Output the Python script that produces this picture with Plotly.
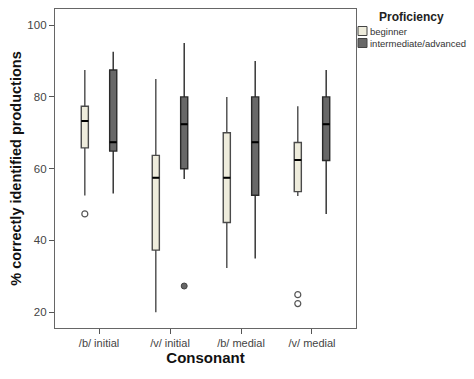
import plotly.graph_objects as go

categories = ["/b/ initial", "/v/ initial", "/b/ medial", "/v/ medial"]

beg_low = [52.5, 20.0, 32.3, 52.4]
beg_q1 = [65.8, 37.3, 45.0, 53.6]
beg_med = [73.3, 57.5, 57.5, 62.4]
beg_q3 = [77.4, 63.7, 70.0, 67.3]
beg_high = [87.5, 85.0, 80.0, 77.4]
beg_out = [[47.4], [], [], [24.9, 22.4]]

adv_low = [53.1, 57.1, 35.0, 47.4]
adv_q1 = [64.9, 60.0, 52.6, 62.3]
adv_med = [67.4, 72.4, 67.4, 72.4]
adv_q3 = [87.5, 80.0, 80.0, 80.0]
adv_high = [92.6, 95.0, 90.0, 87.5]
adv_out = [[], [27.3], [], []]

legend_title = "Proficiency"
group_names = ["beginner", "intermediate/advanced"]

OFFSET = 0.2
BOXW = 0.1
idx = list(range(len(categories)))

W, H = 474, 379
ML, MR, MT, MB = 55, 118, 9, 51
PW, PH = W - ML - MR, H - MT - MB

def px_x(p):
    return (p - ML) / PW

def px_y(p):
    return (H - MB - p) / PH

fig = go.Figure()
groups = [
    (group_names[0], -OFFSET, beg_low, beg_q1, beg_med, beg_q3, beg_high, beg_out,
     "#eeecdc", "#4a4a4a", dict(color="white", size=6, line=dict(color="#555555", width=1.2))),
    (group_names[1], OFFSET, adv_low, adv_q1, adv_med, adv_q3, adv_high, adv_out,
     "#686868", "#2a2a2a", dict(color="#666666", size=6, line=dict(color="#444444", width=1))),
]
for name, off, lo, q1, med, q3, hi, outs, fill, lc, mk in groups:
    xs = [i + off for i in idx]
    fig.add_trace(go.Box(
        name=name, x=xs, q1=q1, median=med, q3=q3,
        lowerfence=lo, upperfence=hi, width=BOXW, whiskerwidth=0,
        boxpoints=False, fillcolor=fill, line=dict(color=lc, width=1.4),
        showlegend=False,
    ))
    # emphasised black median line (SPSS style)
    fig.add_trace(go.Box(
        name=name + " median", x=xs, q1=med, median=med, q3=med,
        lowerfence=med, upperfence=med, width=BOXW, whiskerwidth=0,
        boxpoints=False, fillcolor="rgba(0,0,0,0)",
        line=dict(color="#000000", width=2), showlegend=False, hoverinfo="skip",
    ))
    ox, oy = [], []
    for i, vals in zip(idx, outs):
        for v in vals:
            ox.append(i + off)
            oy.append(v)
    fig.add_trace(go.Scatter(
        x=ox, y=oy, mode="markers", marker=mk, showlegend=False, hoverinfo="y",
    ))

# manual legend (SPSS style)
shapes = []
annotations = [dict(
    text="<b>" + legend_title + "</b>", xref="paper", yref="paper",
    x=px_x(411), y=px_y(17), xanchor="center", yanchor="middle",
    showarrow=False, font=dict(size=12, color="#222222"),
)]
for k, (g, fill) in enumerate(zip(group_names, ["#eeecdc", "#686868"])):
    cy = 31 + 12 * k
    shapes.append(dict(
        type="rect", xref="paper", yref="paper",
        x0=px_x(358), x1=px_x(367), y0=px_y(cy - 4.5), y1=px_y(cy + 4.5),
        fillcolor=fill, line=dict(color="#444444", width=1),
    ))
    annotations.append(dict(
        text=g, xref="paper", yref="paper",
        x=px_x(368), y=px_y(cy), xanchor="left", yanchor="middle",
        showarrow=False, font=dict(size=9.5, color="#333333"),
    ))

fig.update_layout(
    width=W, height=H,
    margin=dict(l=ML, r=MR, t=MT, b=MB, autoexpand=False),
    paper_bgcolor="white", plot_bgcolor="white",
    font=dict(family="Liberation Sans, Arial, sans-serif", color="#333333"),
    showlegend=False,
    shapes=shapes, annotations=annotations,
)
fig.update_xaxes(
    title=dict(text="<b>Consonant</b>", font=dict(size=15, color="#111111"), standoff=3),
    showline=True, linecolor="#666666", linewidth=1.3, mirror=True,
    ticks="outside", ticklen=5, tickcolor="#555555",
    tickvals=idx, ticktext=categories,
    tickfont=dict(size=11, color="#444444"),
    showgrid=False, zeroline=False, range=[-0.62, 3.62],
)
fig.update_yaxes(
    title=dict(text="<b>% correctly identified productions</b>", font=dict(size=14.5, color="#111111"), standoff=2),
    showline=True, linecolor="#666666", linewidth=1.3, mirror=True,
    ticks="outside", ticklen=5, tickcolor="#555555",
    tickfont=dict(size=11.5, color="#444444"),
    tickvals=[20, 40, 60, 80, 100],
    showgrid=False, zeroline=False, range=[15.6, 104.5],
)

fig.write_html("out.html", config={"displayModeBar": False},
               post_script="document.body.style.margin='0';")
